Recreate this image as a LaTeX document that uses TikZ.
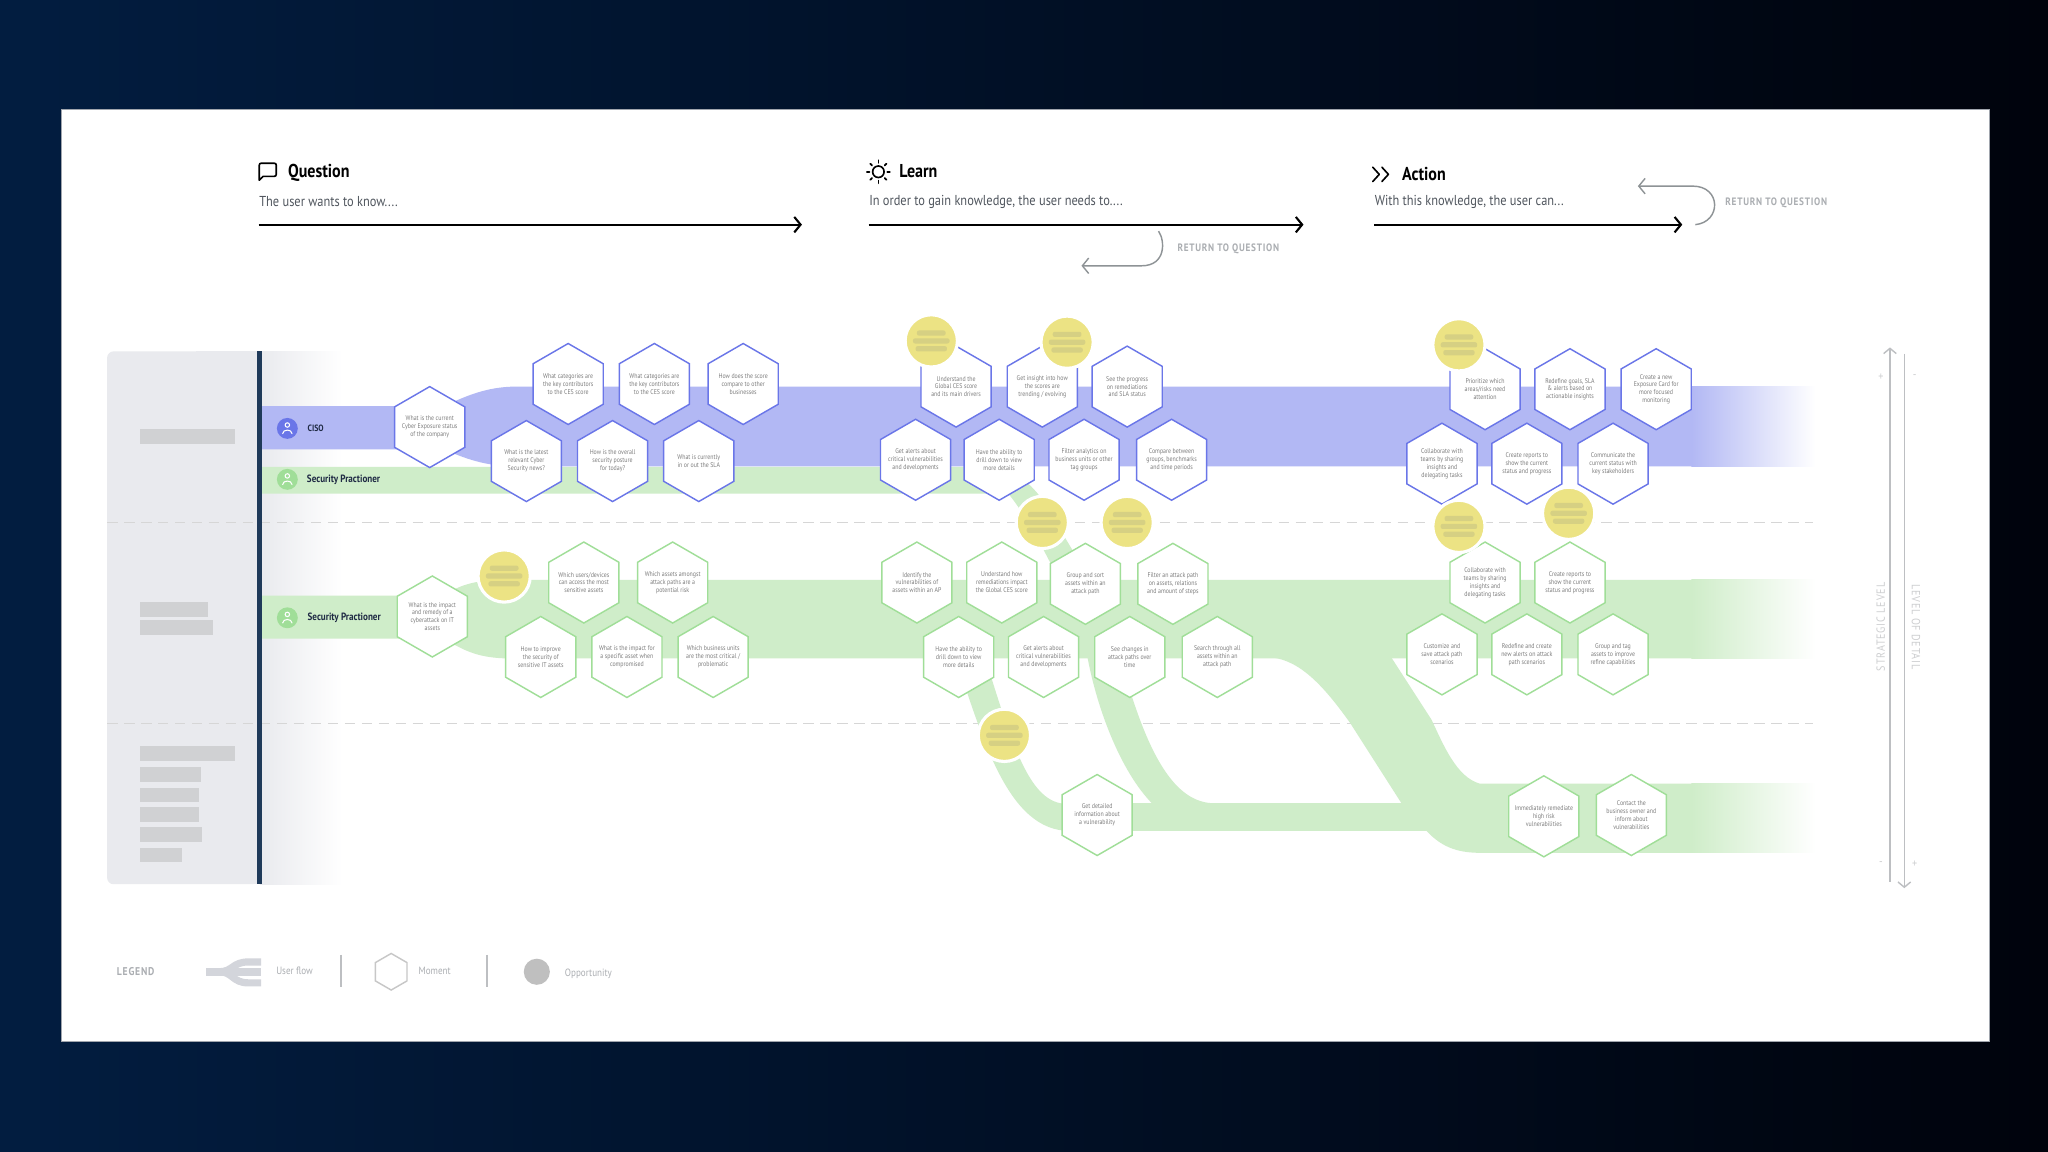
\documentclass[tikz,border=0pt]{standalone}
\usepackage{fontspec}
\usetikzlibrary{shapes.geometric,arrows.meta,calc}
\newfontfamily\barfont[FakeStretch=0.86]{PT Sans}
\newfontfamily\capfont[FakeStretch=0.86,LetterSpace=7]{PT Sans}
\def\un{0.013061cm}
\definecolor{bandblue}{HTML}{B2B8F4}
\definecolor{bandgreen}{HTML}{CFEDC9}
\definecolor{hexblue}{HTML}{6A76E8}
\definecolor{hexgreen}{HTML}{A0DE98}
\definecolor{oppyellow}{HTML}{ECE384}
\definecolor{oppbar}{HTML}{D6D083}
\definecolor{railgray}{HTML}{E9EAEE}
\definecolor{phgray}{HTML}{D0D1D3}
\definecolor{railnavy}{HTML}{1F3A5A}
\definecolor{labelink}{HTML}{1F2A44}
\definecolor{subink}{HTML}{50565E}
\definecolor{hexink}{HTML}{7C7C7C}
\definecolor{capgray}{HTML}{ABAEB2}
\definecolor{loopgray}{HTML}{8E9396}
\definecolor{axisgray}{HTML}{BDBFC2}
\definecolor{axtext}{HTML}{CDCED0}
\definecolor{legendgray}{HTML}{D3D5DB}
\definecolor{bgl}{HTML}{021D40}
\definecolor{bgm}{HTML}{031838}
\definecolor{bgr}{HTML}{00030C}
\definecolor{paneledge}{HTML}{A0A5AD}
\tikzset{
  hexcell/.style={regular polygon,regular polygon sides=6,shape border rotate=30,
    minimum size=62*\un,inner sep=0pt,outer sep=0pt,fill=white,line width=1.1*\un},
  hexb/.style={hexcell,draw=hexblue},
  hexg/.style={hexcell,draw=hexgreen},
  hexlabel/.style={inner sep=0pt,align=center,text=hexink,font=\barfont\fontsize{1.95}{2.25}\selectfont},
  oppspot/.style={circle,minimum size=40*\un,inner sep=0pt,fill=oppyellow,draw=white,line width=2.4*\un},
  oppline/.style={fill=oppbar,rounded corners=1.6*\un},
  avatar/.style={circle,minimum size=16*\un,inner sep=0pt},
  titletext/.style={anchor=west,inner sep=0pt,text=black,font=\barfont\bfseries\fontsize{5.3}{6}\selectfont},
  subtext/.style={anchor=west,inner sep=0pt,text=subink,font=\barfont\fontsize{4.1}{5}\selectfont},
  roletext/.style={anchor=west,inner sep=0pt,text=labelink,font=\barfont\bfseries\fontsize{3}{3.5}\selectfont},
  captext/.style={anchor=west,inner sep=0pt,text=capgray,font=\capfont\bfseries\fontsize{3.05}{3.5}\selectfont},
  legtext/.style={anchor=west,inner sep=0pt,text=capgray,font=\barfont\fontsize{3}{3.5}\selectfont},
  axistext/.style={inner sep=0pt,text=axtext,font=\capfont\fontsize{3.35}{4}\selectfont},
  mainarrow/.style={line width=1.7*\un,black,-{Straight Barb[length=1.8pt,width=4.4pt,line width=0.6pt]}},
  looparrow/.style={line width=1.1*\un,loopgray,-{Straight Barb[length=1.8pt,width=4.4pt,line width=0.4pt]}},
  axisarrow/.style={line width=1.1*\un,axisgray,-{Straight Barb[length=1.5pt,width=3.6pt,line width=0.4pt]}},
  divider/.style={line width=0.9*\un,dash pattern=on 8*\un off 5*\un,draw=black!16},
  sepline/.style={line width=1.1*\un,draw=axisgray},
  ph/.style={fill=phgray},
  iconline/.style={line width=1.25*\un,black,line cap=round,line join=round}
}
\newcommand{\hx}[5]{\node[#1,label={[hexlabel]center:{#5}}] (#2) at (#3,#4) {};}
\newcommand{\opp}[3]{%
  \node[oppspot] (#1) at (#2,#3) {};
  \fill[oppline] ($(#1)+(-11,-8)$) rectangle ($(#1)+(11,-4)$);
  \fill[oppline] ($(#1)+(-14,-2)$) rectangle ($(#1)+(14,2)$);
  \fill[oppline] ($(#1)+(-12,4)$) rectangle ($(#1)+(12,8)$);
}
\newcommand{\persona}[4]{%
  \node[avatar,fill=#4] (#1) at (#2,#3) {};
  \draw[white,line width=0.8*\un] ($(#1)+(0,-2.6)$) circle (1.7*\un);
  \draw[white,line width=0.8*\un,line cap=round] ($(#1)+(-3.6,4)$) .. controls ($(#1)+(-3.4,0.4)$) and ($(#1)+(3.4,0.4)$) .. ($(#1)+(3.6,4)$);
}
\begin{document}
\begin{tikzpicture}[x=\un,y=-\un]
\useasboundingbox (0,0) rectangle (1568,882);
% backdrop
\shade[left color=bgl,middle color=bgm,right color=bgr] (0,0) rectangle (1568,882);
\fill[white,draw=paneledge,line width=0.6*\un] (47,84) rectangle (1523,797);
% rail
\shade[left color=railgray,right color=white] (199,269) rectangle (262,677);
\fill[railgray,rounded corners=5*\un] (82,269) -- (198,269) -- (198,677) -- (82,677) -- cycle;
\fill[railgray] (150,269) rectangle (198,677);
\fill[ph] (107,328.5) rectangle (180,340);
\fill[ph] (107,461) rectangle (159,472.5);
\fill[ph] (107,475) rectangle (163,486);
\fill[ph] (107,571) rectangle (180,583);
\fill[ph] (107,587) rectangle (154,599);
\fill[ph] (107,603) rectangle (152,614);
\fill[ph] (107,618) rectangle (152,629);
\fill[ph] (107,633) rectangle (155,645);
\fill[ph] (107,649) rectangle (139,660);
% dividers
\coordinate (d1l) at (82,400); \coordinate (d1r) at (1388,400);
\coordinate (d2l) at (82,554); \coordinate (d2r) at (1388,554);
\draw[divider] (d1l) -- (d1r);
\draw[divider] (d2l) -- (d2r);
% flow bands
\fill[bandgreen] (199,357.5) -- (772,357.5) -- (787,370) .. controls (800,382) and (808,398) .. (815,411) -- (836,446) -- (812,446) -- (799,421) .. controls (790,405) and (782,390) .. (772,378) -- (199,378) -- cycle;
\fill[bandblue] (199,311) -- (340,311) .. controls (355,304) and (372,296) .. (395,296) -- (1296,296) -- (1296,357) -- (395,357) .. controls (375,357) and (360,353) .. (340,344) -- (199,344) -- cycle;
\shade[left color=bandblue,right color=white] (1295,296) rectangle (1390,357);
\fill[bandgreen] (199,456) -- (340,456) .. controls (350,449) and (362,444) .. (385,444) -- (1296,444) -- (1296,504) -- (385,504) .. controls (365,503) and (355,498) .. (340,489) -- (199,489) -- cycle;
\shade[left color=bandgreen,right color=white] (1295,444) rectangle (1390,504);
% branches
\fill[bandgreen] (730,500) .. controls (750,555) and (768,632) .. (815,636) -- (815,615) -- (812,615) .. controls (785,610) and (772,560) .. (750,490) -- cycle;
\fill[bandgreen] (832,500) .. controls (840,545) and (860,595) .. (885,618) -- (930,618) -- (930,615) .. controls (900,615) and (878,580) .. (857,500) -- cycle;
\fill[bandgreen] (813,615) rectangle (1095,636);
\fill[bandgreen] (970,503) .. controls (992,504) and (1010,520) .. (1034,554) -- (1073,615) -- (1092,636) .. controls (1105,650) and (1118,653) .. (1135,653) -- (1296,653) -- (1296,600) -- (1133,600) .. controls (1115,595) and (1105,570) .. (1096,551) -- (1065,503) -- cycle;
\shade[left color=bandgreen,right color=white] (1295,600) rectangle (1390,653);
% navy rail line
\fill[railnavy] (197,269) rectangle (200.5,677);
% roles
\persona{avciso}{220}{328}{hexblue}
\node[roletext,font=\barfont\bfseries\fontsize{2.6}{3}\selectfont] (rciso) at (235,328) {CISO};
\persona{avsp}{220}{367}{hexgreen}
\node[roletext] (rsp) at (234.5,367) {Security Practioner};
\persona{avspb}{220}{473}{hexgreen}
\node[roletext] (rspb) at (235,473) {Security Practioner};
% headers
\begin{scope}[shift={(205,131.5)}]
\draw[iconline] (-6.5,6.5) -- (-6.5,-5) .. controls (-6.5,-6.2) and (-5.8,-6.5) .. (-5,-6.5) -- (5,-6.5) .. controls (6,-6.5) and (6.5,-6) .. (6.5,-5) -- (6.5,2) .. controls (6.5,3) and (6,3.5) .. (5,3.5) -- (-3.5,3.5) -- cycle;
\end{scope}
\node[titletext] (tq) at (220,132.5) {Question};
\node[subtext] (sq) at (198,154) {The user wants to know....};
\coordinate (aqs) at (198,172); \coordinate (aqe) at (614,172);
\draw[mainarrow] (aqs) -- (aqe);
\begin{scope}[shift={(672.5,131.5)}]
\draw[iconline] (0,0) circle (4.4*\un);
\foreach \a in {0,45,...,315} {\draw[iconline] (\a:6.8*\un) -- (\a:8.8*\un);}
\end{scope}
\node[titletext] (tl) at (688,131) {Learn};
\node[subtext] (sl) at (665,154.5) {In order to gain knowledge, the user needs to....};
\coordinate (als) at (665,172); \coordinate (ale) at (998,172);
\draw[mainarrow] (als) -- (ale);
\begin{scope}[shift={(1057,133.5)}]
\draw[iconline] (-6,-5.5) -- (-1,0) -- (-6,5.5);
\draw[iconline] (1,-5.5) -- (6,0) -- (1,5.5);
\end{scope}
\node[titletext] (ta) at (1073,133.5) {Action};
\node[subtext] (sa) at (1052,154.5) {With this knowledge, the user can...};
\coordinate (aas) at (1052,172); \coordinate (aae) at (1288,172);
\draw[mainarrow] (aas) -- (aae);
% return loops
\coordinate (l1s) at (887,177); \coordinate (l1e) at (828,203.5);
\draw[looparrow] (l1s) .. controls (892,184) and (893,203.5) .. (874,203.5) -- (l1e);
\node[captext] (r1) at (901,190.5) {RETURN TO QUESTION};
\coordinate (l2s) at (1298,172); \coordinate (l2e) at (1254,142.5);
\draw[looparrow] (l2s) .. controls (1318,170) and (1318,142.5) .. (1296,142.5) -- (l2e);
\node[captext] (r2) at (1320.5,155) {RETURN TO QUESTION};
% blue moments: Question
\hx{hexb}{b1}{329}{327}{What is the current\\Cyber Exposure status\\of the company}
\hx{hexb}{b2}{435}{294}{What categories are\\the key contributors\\to the CES score}
\hx{hexb}{b3}{501}{294}{What categories are\\the key contributors\\to the CES score}
\hx{hexb}{b4}{569}{294}{How does the score\\compare to other\\businesses}
\hx{hexb}{b5}{403}{353}{What is the latest\\relevant Cyber\\Security news?}
\hx{hexb}{b6}{469}{353}{How is the overall\\security posture\\for today?}
\hx{hexb}{b7}{535}{353}{What is currently\\in or out the SLA}
% blue moments: Learn
\hx{hexb}{b8}{732}{296}{Understand the\\Global CES score\\and its main drivers}
\hx{hexb}{b9}{798}{296}{Get insight into how\\the scores are\\trending / evolving}
\hx{hexb}{b10}{863}{296}{See the progress\\on remediations\\and SLA status}
\hx{hexb}{b11}{701}{352}{Get alerts about\\critical vulnerabilities\\and developments}
\hx{hexb}{b12}{765}{352}{Have the ability to\\drill down to view\\more details}
\hx{hexb}{b13}{830}{352}{Filter analytics on\\business units or other\\tag groups}
\hx{hexb}{b14}{897}{352}{Compare between\\groups, benchmarks\\and time periods}
% blue moments: Action
\hx{hexb}{b15}{1137}{298}{Prioritize which\\areas/risks need\\attention}
\hx{hexb}{b16}{1202}{298}{Redefine goals, SLA\\\& alerts based on\\actionable insights}
\hx{hexb}{b17}{1268}{298}{Create a new\\Exposure Card for\\more focused\\monitoring}
\hx{hexb}{b18}{1104}{355}{Collaborate with\\teams by sharing\\insights and\\delegating tasks}
\hx{hexb}{b19}{1169}{355}{Create reports to\\show the current\\status and progress}
\hx{hexb}{b20}{1235}{355}{Communicate the\\current status with\\key stakeholders}
% green moments: Question
\hx{hexg}{g1}{331}{472}{What is the impact\\and remedy of a\\cyberattack on IT\\assets}
\hx{hexg}{g2}{447}{446}{Which users/devices\\can access the most\\sensitive assets}
\hx{hexg}{g3}{515}{446}{Which assets amongst\\attack paths are a\\potential risk}
\hx{hexg}{g4}{414}{503}{How to improve\\the security of\\sensitive IT assets}
\hx{hexg}{g5}{480}{503}{What is the impact for\\a specific asset when\\compromised}
\hx{hexg}{g6}{546}{503}{Which business units\\are the most critical /\\problematic}
% green moments: Learn
\hx{hexg}{g7}{702}{446}{Identify the\\vulnerabilities of\\assets within an AP}
\hx{hexg}{g8}{767}{446}{Understand how\\remediations impact\\the Global CES score}
\hx{hexg}{g9}{831}{447}{Group and sort\\assets within an\\attack path}
\hx{hexg}{g10}{898}{447}{Filter an attack path\\on assets, relations\\and amount of steps}
\hx{hexg}{g11}{734}{503}{Have the ability to\\drill down to view\\more details}
\hx{hexg}{g12}{799}{503}{Get alerts about\\critical vulnerabilities\\and developments}
\hx{hexg}{g13}{865}{503}{See changes in\\attack paths over\\time}
\hx{hexg}{g14}{932}{503}{Search through all\\assets within an\\attack path}
% green moments: Action
\hx{hexg}{g15}{1137}{446}{Collaborate with\\teams by sharing\\insights and\\delegating tasks}
\hx{hexg}{g16}{1202}{446}{Create reports to\\show the current\\status and progress}
\hx{hexg}{g17}{1104}{501}{Customize and\\save attack path\\scenarios}
\hx{hexg}{g18}{1169}{501}{Redefine and create\\new alerts on attack\\path scenarios}
\hx{hexg}{g19}{1235}{501}{Group and tag\\assets to improve\\refine capabilities}
\hx{hexg}{g20}{840}{624}{Get detailed\\information about\\a vulnerability}
\hx{hexg}{g21}{1182}{625}{Immediately remediate\\high risk\\vulnerabilities}
\hx{hexg}{g22}{1249}{624}{Contact the\\business owner and\\inform about\\vulnerabilities}
% opportunities
\opp{o1}{713}{261}
\opp{o2}{817}{262}
\opp{o3}{1117}{264}
\opp{o4}{798}{400}
\opp{o5}{863}{400}
\opp{o6}{1117}{403}
\opp{o7}{1201}{393}
\opp{o8}{386}{441}
\opp{o9}{769}{563}
% axes
\coordinate (sb) at (1447,675); \coordinate (st) at (1447,266);
\draw[axisarrow] (sb) -- (st);
\coordinate (lt) at (1458,271); \coordinate (lb) at (1458,680);
\draw[axisarrow] (lt) -- (lb);
\node[axistext,rotate=90] (slabel) at (1440,480) {STRATEGIC LEVEL};
\node[axistext,rotate=-90] (llabel) at (1467,480) {LEVEL OF DETAIL};
\node[axistext] (p1) at (1440,288.5) {+};
\node[axistext] (m1) at (1466,288.5) {-};
\node[axistext] (m2) at (1440,661.5) {-};
\node[axistext] (p2) at (1466,661.5) {+};
% legend
\node[captext,font=\capfont\bfseries\fontsize{3.2}{4}\selectfont] (lg) at (89,744) {LEGEND};
\draw[legendgray,line width=6*\un] (158,744) -- (200,744);
\draw[legendgray,line width=5.5*\un] (168,744) .. controls (178,744) and (178,736.5) .. (190,736.5) -- (200,736.5);
\draw[legendgray,line width=5.5*\un] (168,744) .. controls (178,744) and (178,752.5) .. (190,752.5) -- (200,752.5);
\node[legtext] (luf) at (211,743) {User flow};
\coordinate (s1t) at (261,731); \coordinate (s1b) at (261,756);
\draw[sepline] (s1t) -- (s1b);
\node[regular polygon,regular polygon sides=6,shape border rotate=30,minimum size=28*\un,inner sep=0pt,draw=black!22,line width=1.1*\un] (lhex) at (299.5,744) {};
\node[legtext] (lmo) at (320,743.5) {Moment};
\coordinate (s2t) at (373,731); \coordinate (s2b) at (373,756);
\draw[sepline] (s2t) -- (s2b);
\node[circle,minimum size=20*\un,inner sep=0pt,fill=black!25] (lop) at (411,744) {};
\node[legtext] (lopt) at (432,745.5) {Opportunity};
\end{tikzpicture}
\end{document}
